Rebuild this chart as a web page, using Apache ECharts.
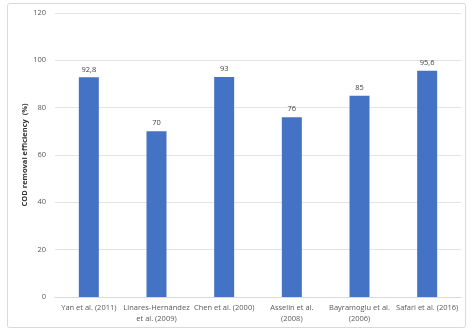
<!DOCTYPE html>
<html>
<head>
<meta charset="utf-8">
<script src="https://cdn.jsdelivr.net/npm/echarts@6/dist/echarts.min.js"></script>
<style>
  html, body { margin: 0; padding: 0; background: #fff; }
  #chart { width: 474px; height: 336px; }
</style>
</head>
<body>
<div id="chart"></div>
<script>
// Studies compared and their reported COD removal efficiency (%)
const studies = [
  'Yan et al. (2011)',
  'Linares-Hernández\net al. (2009)',
  'Chen et al. (2000)',
  'Asselin et al.\n(2008)',
  'Bayramoglu et al.\n(2006)',
  'Safari et al. (2016)'
];
const efficiency = [92.8, 70, 93, 76, 85, 95.6];
const yTicks = [0, 20, 40, 60, 80, 100, 120];

const FONT = 'Open Sans';
const chart = echarts.init(document.getElementById('chart'), null, { renderer: 'canvas' });

chart.setOption({
  animation: false,
  backgroundColor: '#fff',
  textStyle: { fontFamily: FONT },
  graphic: [{
    type: 'rect',
    shape: { x: 7.5, y: 3.5, width: 458, height: 324, r: 2 },
    style: { fill: 'none', stroke: '#d9d9d9', lineWidth: 1 },
    silent: true
  }],
  grid: { left: 55, right: 13, top: 13, bottom: 39, containLabel: false },
  xAxis: {
    type: 'category',
    data: studies,
    axisLine: { show: true, lineStyle: { color: '#d9d9d9' } },
    axisTick: { show: false },
    axisLabel: {
      interval: 0,
      color: '#595959',
      fontSize: 7.5,
      fontFamily: FONT,
      lineHeight: 11,
      margin: 5
    }
  },
  yAxis: {
    type: 'value',
    min: yTicks[0],
    max: yTicks[yTicks.length - 1],
    interval: 20,
    name: 'COD removal efficiency  (%)',
    nameLocation: 'middle',
    nameGap: 26,
    nameMoveOverlap: false,
    nameTextStyle: { color: '#333', fontSize: 7.5, fontWeight: 'bold', fontFamily: FONT },
    axisLine: { show: false },
    axisTick: { show: false },
    splitLine: { lineStyle: { color: '#e3e3e3', width: 1 } },
    axisLabel: { color: '#595959', fontSize: 7.5, fontFamily: FONT, margin: 9 }
  },
  series: [{
    type: 'bar',
    data: efficiency,
    barWidth: 20,
    itemStyle: { color: '#4472C4' },
    label: {
      show: true,
      position: 'top',
      distance: 4,
      color: '#404040',
      fontSize: 7.5,
      fontFamily: FONT,
      formatter: p => String(p.value).replace('.', ',')
    }
  }]
});
</script>
</body>
</html>
